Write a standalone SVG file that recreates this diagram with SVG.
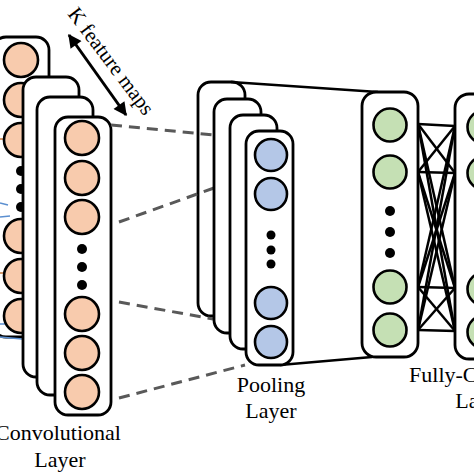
<svg xmlns="http://www.w3.org/2000/svg" width="474" height="474" viewBox="0 0 474 474">
<defs>
<style>
.col{fill:#fff;stroke:#000;stroke-width:2.8}
.conv{fill:#f8cbad;stroke:#000;stroke-width:2.6}
.pool{fill:#b4c7e7;stroke:#000;stroke-width:2.6}
.fc{fill:#c5e0b4;stroke:#000;stroke-width:2.6}
.dot{fill:#000}
.dash{stroke:#595959;stroke-width:3;stroke-dasharray:11 7;fill:none}
.solid{stroke:#000;stroke-width:2.5;fill:none}
.lbl{font-family:"Liberation Serif","Times New Roman",serif;font-size:22px;fill:#000;text-anchor:middle}
.in-b{stroke:#5b8fd0;stroke-width:1.5}
.in-o{stroke:#c5773d;stroke-width:1.5}
</style>
<marker id="ah" viewBox="0 0 10 10" refX="9" refY="5" markerWidth="5" markerHeight="4.5" orient="auto-start-reverse" markerUnits="strokeWidth">
<path d="M0,0 L10,5 L0,10 z" fill="#000"/>
</marker>
</defs>

<g id="conv-map-4">
<rect class="col" x="-7" y="37" width="56" height="300" rx="13"/>
<line class="in-o" x1="0" y1="139" x2="6" y2="139"/>
<line class="in-b" x1="0" y1="203" x2="8" y2="205"/>
<line class="in-b" x1="0" y1="217" x2="10" y2="216"/>
<line class="in-o" x1="0" y1="273" x2="6" y2="273"/>
<line class="in-b" x1="0" y1="324" x2="8" y2="324"/>
<line class="in-b" x1="0" y1="337" x2="22" y2="339"/>
<circle class="conv" cx="21" cy="60" r="17"/>
<circle class="conv" cx="21" cy="100" r="17"/>
<circle class="conv" cx="21" cy="140" r="17"/>
<circle class="dot" cx="21" cy="171" r="5"/>
<circle class="dot" cx="21" cy="189" r="5"/>
<circle class="dot" cx="21" cy="207" r="5"/>
<circle class="conv" cx="21" cy="236" r="17"/>
<circle class="conv" cx="21" cy="276" r="17"/>
<circle class="conv" cx="21" cy="316" r="17"/>
</g>
<g id="conv-map-3"><rect class="col" x="23" y="77" width="56" height="300" rx="13"/></g>
<g id="conv-map-2"><rect class="col" x="37" y="97" width="56" height="298" rx="13"/></g>
<g id="conv-map-1">
<rect class="col" x="55" y="117" width="56" height="298" rx="13"/>
<circle class="conv" cx="82" cy="138" r="17"/>
<circle class="conv" cx="82" cy="178" r="17"/>
<circle class="conv" cx="82" cy="217" r="17"/>
<circle class="dot" cx="82" cy="249" r="5"/>
<circle class="dot" cx="82" cy="267" r="5"/>
<circle class="dot" cx="82" cy="285" r="5"/>
<circle class="conv" cx="82" cy="314" r="17"/>
<circle class="conv" cx="82" cy="353" r="17"/>
<circle class="conv" cx="82" cy="392" r="17"/>
</g>

<g id="k-feature-maps">
<line x1="69" y1="35" x2="126" y2="115" stroke="#000" stroke-width="3" marker-start="url(#ah)" marker-end="url(#ah)"/>
<text transform="translate(67,14) rotate(53)" font-family="'Liberation Serif','Times New Roman',serif" font-size="21" fill="#000">K feature maps</text>
</g>

<g id="pool-map-4"><rect class="col" x="198" y="82" width="47" height="234" rx="13"/></g>

<g id="connectors">
<line class="dash" x1="111" y1="125" x2="214" y2="135"/>
<line class="dash" x1="119" y1="222" x2="214" y2="188"/>
<line class="dash" x1="119" y1="302" x2="213" y2="319"/>
<line class="dash" x1="119" y1="398" x2="245" y2="365"/>
<line class="solid" x1="231" y1="82" x2="378" y2="92"/>
<line class="solid" x1="280" y1="365" x2="372" y2="357"/>
<g class="solid">
<line x1="418" y1="124" x2="455" y2="126"/>
<line x1="418" y1="124" x2="455" y2="173"/>
<line x1="418" y1="124" x2="455" y2="288"/>
<line x1="418" y1="124" x2="455" y2="331"/>
<line x1="418" y1="172" x2="455" y2="126"/>
<line x1="418" y1="172" x2="455" y2="173"/>
<line x1="418" y1="172" x2="455" y2="288"/>
<line x1="418" y1="172" x2="455" y2="331"/>
<line x1="418" y1="287" x2="455" y2="126"/>
<line x1="418" y1="287" x2="455" y2="173"/>
<line x1="418" y1="287" x2="455" y2="288"/>
<line x1="418" y1="287" x2="455" y2="331"/>
<line x1="418" y1="330" x2="455" y2="126"/>
<line x1="418" y1="330" x2="455" y2="173"/>
<line x1="418" y1="330" x2="455" y2="288"/>
<line x1="418" y1="330" x2="455" y2="331"/>
</g>
</g>

<g id="pool-map-3"><rect class="col" x="214" y="99" width="47" height="234" rx="13"/></g>
<g id="pool-map-2"><rect class="col" x="230" y="115" width="47" height="234" rx="13"/></g>
<g id="pool-map-1">
<rect class="col" x="246" y="131" width="47" height="234" rx="13"/>
<circle class="pool" cx="271" cy="155" r="16"/>
<circle class="pool" cx="271" cy="194" r="16"/>
<circle class="dot" cx="271" cy="235" r="4.5"/>
<circle class="dot" cx="271" cy="250" r="4.5"/>
<circle class="dot" cx="271" cy="264" r="4.5"/>
<circle class="pool" cx="271" cy="303" r="16"/>
<circle class="pool" cx="271" cy="342" r="16"/>
</g>

<g id="fc-1">
<rect class="col" x="362" y="92" width="56" height="265" rx="14"/>
<circle class="fc" cx="390" cy="125" r="16.5"/>
<circle class="fc" cx="390" cy="172" r="16.5"/>
<circle class="dot" cx="390" cy="211" r="5"/>
<circle class="dot" cx="390" cy="232" r="5"/>
<circle class="dot" cx="390" cy="253" r="5"/>
<circle class="fc" cx="390" cy="287" r="16.5"/>
<circle class="fc" cx="390" cy="330" r="16.5"/>
</g>

<g id="fc-2">
<rect class="col" x="455" y="94" width="56" height="265" rx="14"/>
<circle class="fc" cx="484" cy="127" r="16.5"/>
<circle class="fc" cx="484" cy="173" r="16.5"/>
<circle class="fc" cx="484" cy="289" r="16.5"/>
<circle class="fc" cx="484" cy="332" r="16.5"/>
</g>

<g id="labels">
<text class="lbl" x="58" y="440">Convolutional</text>
<text class="lbl" x="60" y="467">Layer</text>
<text class="lbl" x="271" y="392">Pooling</text>
<text class="lbl" x="271" y="418">Layer</text>
<text class="lbl" x="483" y="382">Fully-Connected</text>
<text class="lbl" x="481" y="408">Layer</text>
</g>
</svg>
